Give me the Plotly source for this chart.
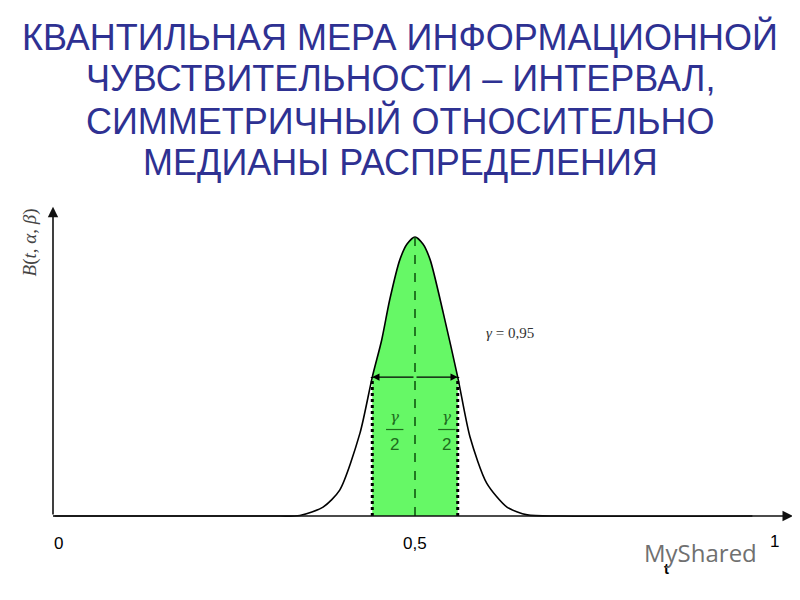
import plotly.graph_objects as go

# curve (t, B normalised to the peak)
curve_t = [0.0, 0.300, 0.341, 0.373, 0.396, 0.424, 0.441, 0.454, 0.465, 0.479,
           0.489, 0.500, 0.511, 0.521, 0.539, 0.559, 0.576, 0.599, 0.627, 0.655, 0.700, 0.966]
curve_b = [0.0, 0.0, 0.002, 0.032, 0.093, 0.297, 0.498, 0.631, 0.774, 0.918,
           0.975, 1.0, 0.975, 0.918, 0.728, 0.498, 0.283, 0.118, 0.032, 0.004, 0.0, 0.0]

lo_t, hi_t = 0.441, 0.559     # interval bounds
median_t = 0.5
gamma_text = "<i>γ</i> = 0,95"
title_lines = ["КВАНТИЛЬНАЯ МЕРА ИНФОРМАЦИОННОЙ",
               "ЧУВСТВИТЕЛЬНОСТИ – ИНТЕРВАЛ,",
               "СИММЕТРИЧНЫЙ ОТНОСИТЕЛЬНО",
               "МЕДИАНЫ РАСПРЕДЕЛЕНИЯ"]
tick_vals = [0, 0.5, 1]
tick_text = ["0", "0,5", "1"]

fill_t = [t for t in curve_t if lo_t <= t <= hi_t]
fill_b = [b for t, b in zip(curve_t, curve_b) if lo_t <= t <= hi_t]
h_lo = curve_b[curve_t.index(lo_t)]

# page has an 8px body margin, so shift the frame back by 8px
OFF = 8
PX_X, PX_Y = 724, 279
X0, Y0 = 53 - OFF, 516 - OFF

fig = go.Figure()
fig.add_trace(go.Scatter(x=fill_t, y=fill_b, mode="lines", fill="tozeroy",
                         fillcolor="#66F866", line=dict(width=0, shape="spline"),
                         hoverinfo="skip"))
fig.add_trace(go.Scatter(x=curve_t, y=curve_b, mode="lines",
                         line=dict(color="black", width=1.6, shape="spline", smoothing=0.7)))
# boundaries and median
for t in (lo_t, hi_t):
    fig.add_trace(go.Scatter(x=[t, t], y=[0, h_lo], mode="lines",
                             line=dict(color="black", width=3, dash="dot")))
fig.add_trace(go.Scatter(x=[median_t, median_t], y=[0, 1], mode="lines",
                         line=dict(color="#0b4d0b", width=1.5, dash="dash")))

ann = []
# axes with arrows
ann.append(dict(x=1.022, y=0, ax=0, ay=0, xref="x", yref="y", axref="x", ayref="y",
                showarrow=True, arrowhead=2, arrowsize=1.3, arrowwidth=1.6,
                arrowcolor="#111", text=""))
ann.append(dict(x=0, y=1.108, ax=0, ay=0, xref="x", yref="y", axref="x", ayref="y",
                showarrow=True, arrowhead=2, arrowsize=1.3, arrowwidth=1.6,
                arrowcolor="#111", text=""))
# double arrow across the interval
for t in (lo_t, hi_t):
    ann.append(dict(x=t, y=h_lo, ax=median_t, ay=h_lo, xref="x", yref="y",
                    axref="x", ayref="y", showarrow=True, arrowhead=2,
                    arrowsize=1.2, arrowwidth=1.2, arrowcolor="black", text=""))
# gamma / 2
frac_t = [0.472, 0.544]
for t in frac_t:
    ann.append(dict(x=t, y=0.355, xref="x", yref="y", showarrow=False,
                    text="<i>γ</i>", font=dict(family="DejaVu Serif", size=15, color="#1d6b1d")))
    ann.append(dict(x=t, y=0.255, xref="x", yref="y", showarrow=False,
                    text="2", font=dict(family="Liberation Sans", size=17, color="#1d6b1d")))
shapes = [dict(type="line", xref="x", yref="y", x0=t - 0.012, x1=t + 0.012,
               y0=0.31, y1=0.31, line=dict(color="#1d6b1d", width=1.2))
          for t in frac_t]
ann.append(dict(x=0.631, y=0.656, xref="x", yref="y", showarrow=False,
                text=gamma_text,
                font=dict(family="Liberation Serif", size=15, color="#333")))
ann.append(dict(x=-0.032, y=0.98, xref="x", yref="y", showarrow=False, textangle=-90,
                text="<i>B</i>(<i>t</i>, <i>α</i>, <i>β</i>)",
                font=dict(family="Liberation Serif", size=19, color="#444")))
# tick labels
tick_y = [-0.097, -0.097, -0.09]
tick_x = [0.007, 0.5, 0.996]
for tx, ty, lab in zip(tick_x, tick_y, tick_text):
    ann.append(dict(x=tx, y=ty, xref="x", yref="y", showarrow=False, text=lab,
                    font=dict(family="Liberation Sans", size=17, color="black")))
ann.append(dict(x=0.848, y=-0.188, xref="x", yref="y", showarrow=False, text="<b>t</b>",
                font=dict(family="Liberation Sans", size=15, color="black")))
ann.append(dict(x=0.895, y=-0.13, xref="x", yref="y", showarrow=False, text="MyShared",
                font=dict(family="Open Sans", size=24, color="#707070")))
# title
for i, line in enumerate(title_lines):
    ann.append(dict(x=(400 - OFF) / 800, y=1 - (37 - OFF + i * 42) / 600,
                    xref="paper", yref="paper",
                    yanchor="middle", showarrow=False, text=line,
                    font=dict(family="Liberation Sans", size=36, color="#2e3192")))

fig.update_layout(
    width=800, height=600, margin=dict(l=0, r=0, t=0, b=0),
    paper_bgcolor="white", plot_bgcolor="white", showlegend=False,
    xaxis=dict(range=[-X0 / PX_X, (800 - X0) / PX_X], visible=False, fixedrange=True),
    yaxis=dict(range=[-(600 - Y0) / PX_Y, Y0 / PX_Y], visible=False, fixedrange=True),
    annotations=ann, shapes=shapes,
)
fig.write_html("out.html")
